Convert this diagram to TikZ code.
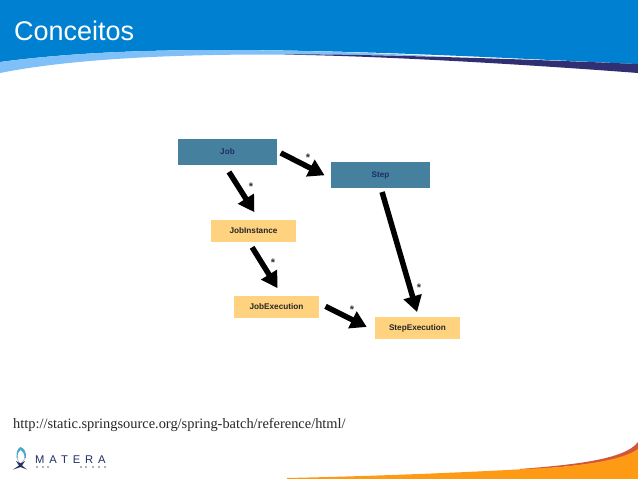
\documentclass[tikz,border=0pt]{standalone}
\usepackage{fontspec}
\setmainfont{Liberation Serif}
\setsansfont{Liberation Sans}
\usetikzlibrary{arrows.meta}
\tikzset{>=latex}
\definecolor{headerblue}{HTML}{0080D0}
\definecolor{bandlight}{HTML}{80C0F8}
\definecolor{banddark}{HTML}{2F2F72}
\definecolor{boxblue}{HTML}{45809F}
\definecolor{boxyellow}{HTML}{FFD27F}
\definecolor{swooshorange}{HTML}{FF9A14}
\definecolor{swooshred}{HTML}{D2563A}
\definecolor{logonavy}{HTML}{1F2F66}
\definecolor{logocyan}{HTML}{4AA8CC}

\begin{document}
\begin{tikzpicture}[x=1pt, y=-1pt]
\tikzset{entitybox/.style={minimum width=85pt, minimum height=22pt, inner sep=0pt, fill=boxyellow, text=black!85, font=\sffamily\bfseries\fontsize{8.2}{9}\selectfont}}
\tikzset{parentbox/.style={entitybox, minimum width=99pt, minimum height=26pt, fill=boxblue, text=logonavy}}
\tikzset{bigarrow/.style={-{Triangle[length=16pt, width=18pt]}, line width=5.5pt, black}}
\tikzset{multstar/.style={inner sep=0pt, text=black!80, font=\sffamily\bfseries\fontsize{11}{11}\selectfont}}
    \useasboundingbox (0,0) rectangle (638,479);
    \fill[white] (0,0) rectangle (638,479);

    % header
    \fill[headerblue] (0,0) -- (638,0) -- (638,64) .. controls (520,59) and (370,50) .. (220,50) .. controls (130,50) and (60,54) .. (0,62) -- cycle;
    \fill[bandlight] (0,62) .. controls (60,54) and (130,50) .. (220,50) .. controls (300,50) and (380,53) .. (450,57) .. controls (390,55) and (320,54.5) .. (270,54.5) .. controls (170,54.5) and (70,59) .. (0,73) -- cycle;
    \fill[banddark] (285,54.4) .. controls (370,54) and (520,59) .. (638,64) -- (638,73) .. controls (520,64) and (380,56) .. (285,54.6) -- cycle;
    \node[anchor=base west, inner sep=0pt, text=white] (title) at (14,41) {\sffamily\fontsize{27}{27}\selectfont Conceitos};

    % footer
    \fill[swooshred] (520,469) .. controls (570,465) and (625,460) .. (638,442) -- (638,452) .. controls (620,462) and (570,467) .. (520,470) -- cycle;
    \fill[swooshorange] (287,478) .. controls (380,476) and (480,472) .. (560,467) .. controls (600,463) and (625,458) .. (638,449) -- (638,479) -- (287,479) -- cycle;

    % boxes
    \node[parentbox] (Job) at (227.5,152) {Job};
    \node[parentbox] (Step) at (380.5,175) {Step};
    \node[entitybox] (JobInstance) at (253.5,231) {JobInstance};
    \node[entitybox] (JobExecution) at (276.5,307) {JobExecution};
    \node[entitybox] (StepExecution) at (417.5,328) {StepExecution};

    \draw[bigarrow, shorten <=4pt, shorten >=7pt] (Job.1) -- (Step.184);
    \draw[bigarrow, shorten <=8pt, shorten >=9pt] (Job.258) -- (JobInstance.63);
    \draw[bigarrow, shorten <=6pt, shorten >=9pt] (JobInstance.248) -- (JobExecution.63);
    \draw[bigarrow, shorten <=7pt, shorten >=9pt] (JobExecution.5) -- (StepExecution.184);
    \draw[bigarrow, shorten <=4pt, shorten >=5pt] (Step.272) -- (StepExecution.85);

    \node[multstar] (s1) at (308,157.5) {*};
    \node[multstar] (s2) at (251,186.5) {*};
    \node[multstar] (s3) at (273,262.5) {*};
    \node[multstar] (s4) at (419,287.5) {*};
    \node[multstar] (s5) at (352,309.5) {*};

    \node[anchor=base west, inner sep=0pt, text=black!85] (source) at (13,428) {\fontsize{14.4}{15}\selectfont http://static.springsource.org/spring-batch/reference/html/};

    % logo
    \draw[gray!70, line width=0.5pt] (17,456) .. controls (17,460) and (19,462) .. (20.5,464) .. controls (22,462) and (25,460) .. (25.5,456);
    \fill[logocyan] (20.5,447) .. controls (24,448) and (26.5,452) .. (26,458) -- (24.5,458) .. controls (24.5,454) and (23,451) .. (20.5,450) .. controls (18.5,451) and (17.5,454) .. (17.5,458) -- (16.5,458) .. controls (16,452) and (18,448) .. (20.5,447) -- cycle;
    \fill[logonavy] (13,469.5) -- (19,465.5) -- (16,461) -- (20.5,463.5) -- (25,461) -- (22,465.5) -- (27,469.5) -- (20.5,467) -- cycle;
    \node[anchor=base west, inner sep=0pt, text=logonavy] (matera) at (35,463) {\sffamily\fontsize{11.2}{11}\selectfont\addfontfeature{LetterSpace=44}MATERA};
    \foreach \xtick in {36,42,47,80,85,92,98,104}
        \fill[gray!60] (\xtick,466) rectangle +(1.5,2);
\end{tikzpicture}
\end{document}
